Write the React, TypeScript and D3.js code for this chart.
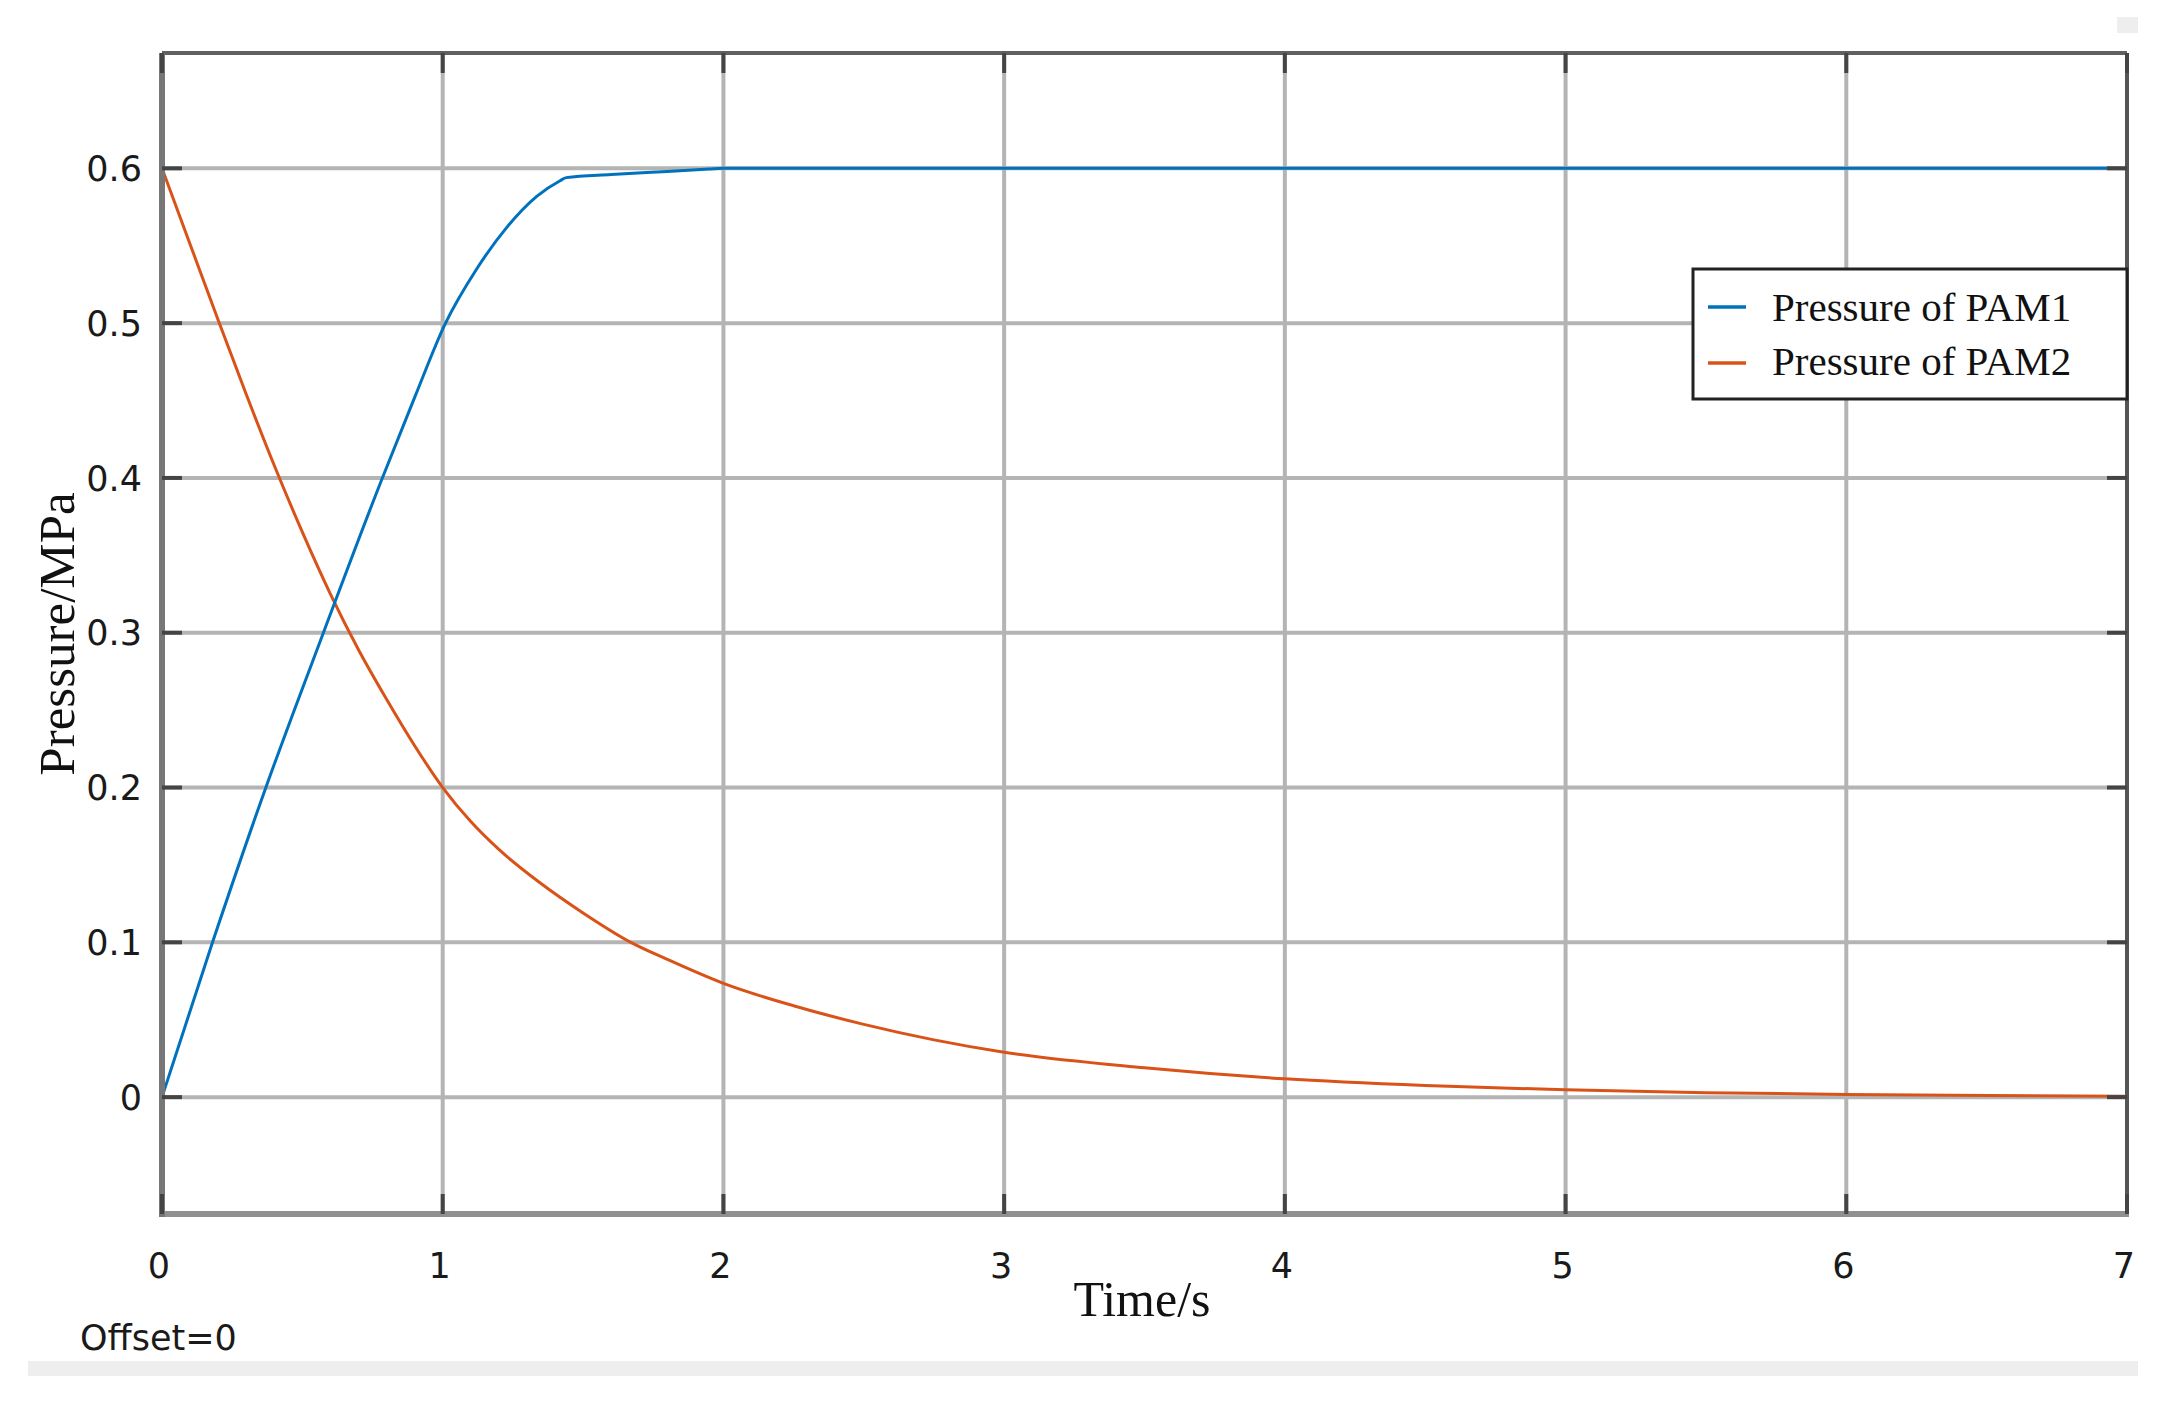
import React from 'react';
import * as d3 from 'd3';

// values
const timeTicks = [0, 1, 2, 3, 4, 5, 6, 7];
const pressureTicks = [0, 0.1, 0.2, 0.3, 0.4, 0.5, 0.6];
const pressureTickLabels = ['0', '0.1', '0.2', '0.3', '0.4', '0.5', '0.6'];

const pam1Time = [0, 0.18, 0.37, 0.575, 0.785, 0.9, 1.01, 1.121, 1.229, 1.336, 1.418, 1.44, 1.6, 1.8, 1.95, 2.0, 3, 4, 5, 6, 7];
const pam1Pressure = [0, 0.1, 0.2, 0.3, 0.4, 0.452, 0.5, 0.535, 0.562, 0.582, 0.592, 0.594, 0.596, 0.598, 0.5995, 0.6, 0.6, 0.6, 0.6, 0.6, 0.6];

const pam2Time = [0, 0.1, 0.2, 0.3, 0.4, 0.5, 0.6, 0.7, 0.8, 0.9, 1.0, 1.1, 1.2, 1.35, 1.5, 1.67, 1.8, 2.0, 2.25, 2.5, 2.75, 3.0, 3.5, 4.0, 4.5, 5.0, 5.5, 6.0, 6.5, 7.0];
const pam2Pressure = [0.6, 0.551, 0.502, 0.454, 0.408, 0.365, 0.325, 0.289, 0.257, 0.227, 0.2, 0.178, 0.16, 0.138, 0.119, 0.1, 0.089, 0.0735, 0.059, 0.047, 0.037, 0.029, 0.019, 0.0118, 0.0075, 0.0047, 0.0029, 0.0017, 0.001, 0.0006];

const seriesNames = ['Pressure of PAM1', 'Pressure of PAM2'];
const seriesColors = ['#0072BD', '#D95319'];

const W = 2173;
const H = 1411;
const plot = { left: 162, right: 2127, top: 53, bottom: 1214 };

const sans = '"DejaVu Sans", sans-serif';
const serif = '"Liberation Serif", "Times New Roman", serif';

const App = () => {
  const x = d3.scaleLinear().domain([0, 7]).range([plot.left, plot.right]);
  const y = d3.scaleLinear().domain([-0.0755, 0.6745]).range([plot.bottom, plot.top]);

  const line = d3.line<[number, number]>()
    .x(d => x(d[0]))
    .y(d => y(d[1]))
    .curve(d3.curveMonotoneX);

  const pam1 = pam1Time.map((t, i) => [t, pam1Pressure[i]] as [number, number]);
  const pam2 = pam2Time.map((t, i) => [t, pam2Pressure[i]] as [number, number]);

  const tickLen = 20;
  const legend = { x: 1693, y: 269, w: 434, h: 130 };

  return (
    <svg width={W} height={H} style={{ position: 'absolute', left: 0, top: 0, display: 'block', background: '#fff' }}>
      {/* frame leftovers from the screenshot */}
      <rect x={2117} y={17} width={21} height={16} fill="#eeeeee" />
      <rect x={28} y={1361} width={2110} height={15} fill="#eeeeee" />

      {/* grid */}
      <g stroke="#b4b4b4" strokeWidth={4}>
        {timeTicks.slice(1, -1).map(t => (
          <line key={'gx' + t} x1={x(t)} x2={x(t)} y1={plot.top} y2={plot.bottom} />
        ))}
        {pressureTicks.map(p => (
          <line key={'gy' + p} x1={plot.left} x2={plot.right} y1={y(p)} y2={y(p)} />
        ))}
      </g>

      {/* series */}
      <path d={line(pam2) || ''} fill="none" stroke={seriesColors[1]} strokeWidth={3} />
      <path d={line(pam1) || ''} fill="none" stroke={seriesColors[0]} strokeWidth={3} />

      {/* axes box */}
      <line x1={plot.left} x2={plot.right} y1={plot.top} y2={plot.top} stroke="#606060" strokeWidth={4} />
      <line x1={plot.left} x2={plot.right + 2} y1={plot.bottom} y2={plot.bottom} stroke="#909090" strokeWidth={6} />
      <line x1={plot.left} x2={plot.left} y1={plot.top} y2={plot.bottom + 3} stroke="#777777" strokeWidth={6} />
      <line x1={plot.right} x2={plot.right} y1={plot.top} y2={plot.bottom} stroke="#555555" strokeWidth={4} />

      {/* inward ticks */}
      <g stroke="#444" strokeWidth={4}>
        {timeTicks.map(t => (
          <g key={'tx' + t}>
            <line x1={x(t)} x2={x(t)} y1={plot.bottom} y2={plot.bottom - tickLen} />
            <line x1={x(t)} x2={x(t)} y1={plot.top} y2={plot.top + tickLen} />
          </g>
        ))}
        {pressureTicks.map(p => (
          <g key={'ty' + p}>
            <line x1={plot.left} x2={plot.left + tickLen} y1={y(p)} y2={y(p)} />
            <line x1={plot.right} x2={plot.right - tickLen} y1={y(p)} y2={y(p)} />
          </g>
        ))}
      </g>

      {/* tick labels */}
      <g fontFamily={sans} fontSize={35} fill="#1a1a1a">
        {timeTicks.map(t => (
          <text key={'lx' + t} x={x(t) - 3} y={1278} textAnchor="middle">{t}</text>
        ))}
        {pressureTicks.map((p, i) => (
          <text key={'ly' + p} x={142} y={y(p)} dy="0.36em" textAnchor="end">{pressureTickLabels[i]}</text>
        ))}
        <text x={80} y={1350}>Offset=0</text>
      </g>

      {/* axis titles */}
      <text x={1142} y={1316} fontFamily={serif} fontSize={50} textAnchor="middle" fill="#111">Time/s</text>
      <text transform="translate(74,634) rotate(-90)" fontFamily={serif} fontSize={51} textAnchor="middle" fill="#111">Pressure/MPa</text>

      {/* legend */}
      <rect x={legend.x} y={legend.y} width={legend.w} height={legend.h} fill="#fff" stroke="#222" strokeWidth={3} />
      {seriesNames.map((name, i) => (
        <g key={name}>
          <line x1={1708} x2={1746} y1={307 + i * 56} y2={307 + i * 56} stroke={seriesColors[i]} strokeWidth={3.5} />
          <text x={1772} y={321 + i * 54} fontFamily={serif} fontSize={41} fill="#111">{name}</text>
        </g>
      ))}
    </svg>
  );
};

export default App;
